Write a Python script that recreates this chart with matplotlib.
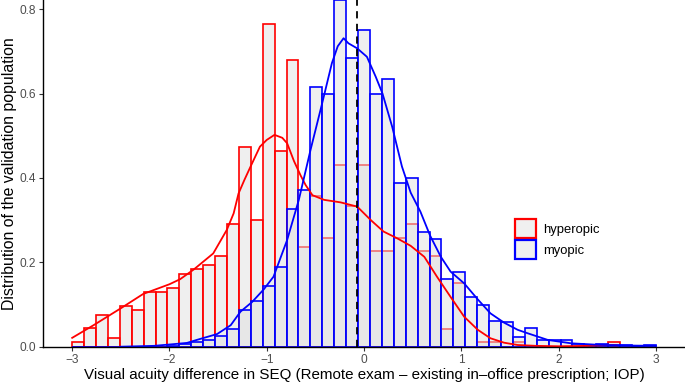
import numpy as np
import matplotlib
matplotlib.use("Agg")
import matplotlib.pyplot as plt
from matplotlib.patches import Patch

plt.rcParams['font.family'] = ['Liberation Sans', 'DejaVu Sans']

# ---- data ----
bin_range = (-3.0, 3.0)
n_bins = 49

hyperopic_density = [
    0.010, 0.044, 0.076, 0.021, 0.096, 0.086, 0.129, 0.129, 0.140, 0.172,
    0.183, 0.194, 0.215, 0.291, 0.474, 0.301, 0.765, 0.464, 0.679, 0.237,
    0.356, 0.258, 0.431, 0.334, 0.431, 0.226, 0.226, 0.258, 0.291, 0.226,
    0.216, 0.043, 0.151, 0.000, 0.010, 0.010, 0.000, 0.010, 0.000, 0.000,
    0.000, 0.000, 0.000, 0.000, 0.000, 0.010, 0.000, 0.000, 0.000]

myopic_density = [
    0.000, 0.000, 0.000, 0.000, 0.000, 0.000, 0.000, 0.000, 0.002, 0.006,
    0.011, 0.017, 0.026, 0.041, 0.088, 0.108, 0.143, 0.189, 0.327, 0.372,
    0.615, 0.599, 0.821, 0.683, 0.750, 0.599, 0.635, 0.387, 0.400, 0.272,
    0.256, 0.160, 0.176, 0.1185, 0.098, 0.062, 0.058, 0.024, 0.045, 0.016,
    0.016, 0.016, 0.006, 0.004, 0.006, 0.004, 0.004, 0.002, 0.004]

hyper_kde_x = [-3.0, -2.78, -2.5, -2.27, -2.0, -1.89, -1.75, -1.55, -1.48, -1.41,
               -1.34, -1.29, -1.23, -1.17, -1.07, -1.0, -0.92, -0.84, -0.79, -0.72,
               -0.65, -0.60, -0.53, -0.41, -0.24, -0.07, 0.07, 0.20, 0.34, 0.48,
               0.62, 0.75, 0.89, 1.03, 1.17, 1.30, 1.44, 1.58, 1.77, 2.0,
               2.3, 2.5, 2.6]
hyper_kde_y = [0.021, 0.051, 0.091, 0.125, 0.148, 0.160, 0.183, 0.221, 0.249, 0.277,
               0.316, 0.363, 0.395, 0.425, 0.474, 0.490, 0.502, 0.495, 0.482, 0.440,
               0.405, 0.383, 0.359, 0.348, 0.342, 0.332, 0.300, 0.273, 0.257, 0.239,
               0.213, 0.166, 0.118, 0.071, 0.040, 0.020, 0.0095, 0.004, 0.002, 0.001,
               0.002, 0.004, 0.003]

myo_kde_x = [-2.5, -2.16, -1.96, -1.82, -1.72, -1.51, -1.37, -1.27, -1.15, -1.03,
             -0.93, -0.79, -0.67, -0.55, -0.43, -0.33, -0.27, -0.21, -0.16, -0.07,
             0.03, 0.12, 0.19, 0.29, 0.39, 0.48, 0.58, 0.68, 0.79, 0.89,
             1.03, 1.17, 1.30, 1.44, 1.58, 1.68, 1.89, 2.13, 2.37, 2.64, 3.0]
myo_kde_y = [0.000, 0.002, 0.006, 0.009, 0.016, 0.030, 0.051, 0.083, 0.106, 0.136,
             0.166, 0.253, 0.348, 0.466, 0.577, 0.672, 0.712, 0.731, 0.719, 0.707,
             0.687, 0.640, 0.600, 0.521, 0.427, 0.365, 0.320, 0.263, 0.213, 0.178,
             0.150, 0.112, 0.079, 0.057, 0.040, 0.032, 0.016, 0.008, 0.005, 0.003, 0.002]

mean_diff = -0.07
group_labels = ["hyperopic", "myopic"]
group_colors = ["#FF0000", "#0000FF"]

# ---- figure ----
W, H = 685, 384
fig = plt.figure(figsize=(W / 100, H / 100), dpi=100)
ax = fig.add_axes([43 / W, 37.3 / H, 642 / W, 346.7 / H])

edges = np.linspace(bin_range[0], bin_range[1], n_bins + 1)
widths = np.diff(edges)
fill = (0.88, 0.88, 0.88, 0.5)

for dens, col in zip([hyperopic_density, myopic_density], group_colors):
    ax.bar(edges[:-1], dens, width=widths, align='edge', facecolor=fill,
           edgecolor=col, linewidth=1.2)

ax.plot(hyper_kde_x, hyper_kde_y, color=group_colors[0], lw=1.3)
ax.plot(myo_kde_x, myo_kde_y, color=group_colors[1], lw=1.3)
ax.axvline(mean_diff, color='black', ls=(0, (4, 3)), lw=1.3)

ax.set_xlim(-3.3, 3.3)
ax.set_ylim(0, 0.8216)
ax.set_xticks([-3, -2, -1, 0, 1, 2, 3])
ax.set_yticks([0.0, 0.2, 0.4, 0.6, 0.8])
ax.set_yticklabels(["0.0", "0.2", "0.4", "0.6", "0.8"])
ax.tick_params(axis='both', labelsize=8.6, labelcolor='#4D4D4D', color='#333333',
               length=3, width=0.8, pad=2)

for s in ['top', 'right']:
    ax.spines[s].set_visible(False)
for s in ['left', 'bottom']:
    ax.spines[s].set_color('black')
    ax.spines[s].set_linewidth(1.0)

ax.set_xlabel("Visual acuity difference in SEQ (Remote exam \u2013 existing in\u2013office prescription; IOP)",
              fontsize=10.9, color='black', labelpad=2)
ax.set_ylabel("Distribution of the validation population", fontsize=11.4, color='black', labelpad=2)

handles = [Patch(facecolor='#f0f0f0', edgecolor=c, linewidth=1.6) for c in group_colors]
ax.legend(handles, group_labels, loc='upper left', bbox_to_anchor=(0.735, 0.368),
          frameon=False, fontsize=9.4, handlelength=1.65, handleheight=1.9,
          handletextpad=0.55, labelspacing=0.12, borderpad=0, borderaxespad=0)

fig.savefig("out.png", dpi=100)
